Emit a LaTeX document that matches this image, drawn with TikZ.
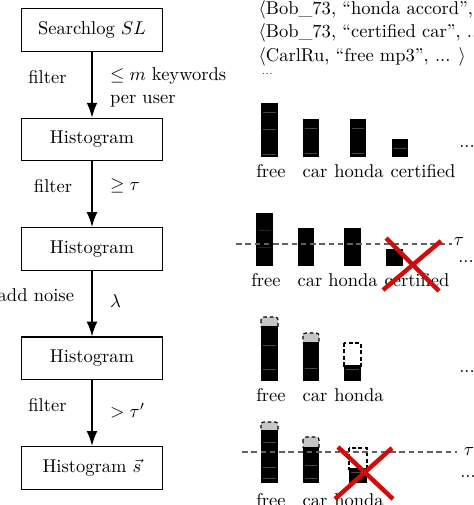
\documentclass[tikz,border=0pt]{standalone}
\usepackage{tikz}
\usetikzlibrary{arrows.meta,positioning}
\definecolor{crossred}{RGB}{210,10,10}
\tikzset{
  every picture/.style={line width=0.6pt},
  node distance=59.1pt,
  stage/.style={draw, rectangle, minimum width=76pt, minimum height=23pt, inner sep=0pt},
  flow/.style={-{Latex[length=8pt,width=5.8pt]}, line width=0.8pt},
  bar/.style={fill=black},
  unit/.style={gray!55!black, line width=0.4pt},
  darkunit/.style={gray!30!black, line width=0.4pt},
  noise/.style={fill=gray!45, draw=black, dash pattern=on 2pt off 1.5pt, line width=0.6pt, rounded corners=1.5pt},
  hole/.style={fill=white, draw=black, dash pattern=on 2pt off 1.5pt, line width=0.6pt},
  thres/.style={gray!75!black, dash pattern=on 3pt off 2pt, line width=0.6pt},
  cross/.style={crossred, line width=2.4pt},
  word/.style={anchor=base, inner sep=0pt}
}

\begin{document}
\begin{tikzpicture}[x=0.54pt, y=-0.54pt]
    \useasboundingbox (0,0) rectangle (474,505);

    % pipeline
    \node [stage] (log) at (92,30) {Searchlog $SL$};
    \node [stage, below of=log] (hist1) {Histogram};
    \node [stage, below of=hist1] (hist2) {Histogram};
    \node [stage, below of=hist2] (hist3) {Histogram};
    \node [stage, below of=hist3] (hist4) {Histogram $\vec{s}$};

    \draw[flow] (log) -- (hist1)
      node[pos=0.39, left=10pt] (f1) {filter}
      node[pos=0.54, right=6pt, align=left] (c1) {$\leq m$ keywords\\per user};
    \draw[flow] (hist1) -- (hist2)
      node[pos=0.38, left=7pt] (f2) {filter}
      node[pos=0.38, right=6pt] (c2) {$\geq \tau$};
    \draw[flow] (hist2) -- (hist3)
      node[pos=0.37, left=6pt] (f3) {add noise}
      node[pos=0.46, right=6pt] (c3) {$\lambda$};
    \draw[flow] (hist3) -- (hist4)
      node[pos=0.38, left=10pt] (f4) {filter}
      node[pos=0.47, right=6pt] (c4) {$> \tau'$};

    % search log records
    \node [anchor=west] (rec1) at (252,10) {$\langle$Bob\_73, ``honda accord'', ...};
    \node [anchor=west] (rec2) at (252,33) {$\langle$Bob\_73, ``certified car'', ...};
    \node [anchor=west] (rec3) at (252,57) {$\langle$CarlRu, ``free mp3'', ... $\rangle$};
    \node [anchor=west, font=\tiny] (rec4) at (255,74) {...};

    % histogram 1
    \foreach \xa/\xb/\yt in {261/278/103, 303/319/119, 350/366/119, 392/408/139}
      \fill[bar] (\xa,\yt) rectangle (\xb,157);
    \foreach \xa/\xb/\yy in {261/278/112, 261/278/129, 261/278/154, 303/319/128, 303/319/153,
                             350/366/128, 350/366/153, 392/408/148}
      \draw[unit] (\xa+2,\yy) -- (\xb-2,\yy);
    \node [word] (w11) at (271,177) {free};
    \node [word] (w12) at (315,177) {car};
    \node [word] (w13) at (359,177) {honda};
    \node [word] (w14) at (423,177) {certified};
    \node (more1) at (467,147) {...};

    % histogram 2
    \foreach \xa/\xb/\yt in {256/273/213, 298/314/228, 344/361/228, 386/403/249}
      \fill[bar] (\xa,\yt) rectangle (\xb,266);
    \foreach \yy in {230, 247}
      \draw[darkunit] (258,\yy) -- (271,\yy);
    \coordinate (t1a) at (236,244);
    \coordinate (t1b) at (452,244);
    \draw[thres] (t1a) -- (t1b);
    \node [inner sep=1pt] (tau1) at (459,242) {$\tau$};
    \node [inner sep=1pt] (more2) at (466,262) {...};
    \node [word] (w21) at (266,286) {free};
    \node [word] (w22) at (310,286) {car};
    \node [word] (w23) at (353,286) {honda};
    \node [word] (w24) at (417,286) {certified};
    \draw[cross] (386,238) -- (439,291);
    \draw[cross] (441,241) -- (383,290);

    % histogram 3
    \filldraw[noise] (261,317) rectangle (278,329);
    \filldraw[noise] (303,333) rectangle (319,345);
    \filldraw[hole] (344,343) rectangle (361,366);
    \fill[bar] (261,326) rectangle (278,381);
    \fill[bar] (303,342) rectangle (319,381);
    \fill[bar] (344,365) rectangle (361,381);
    \foreach \xa/\xb/\yy in {261/278/345, 261/278/369, 303/319/368, 344/361/369}
      \draw[unit] (\xa+2,\yy) -- (\xb-2,\yy);
    \node [word] (w31) at (271,401) {free};
    \node [word] (w32) at (315,401) {car};
    \node [word] (w33) at (359,401) {honda};
    \node (more3) at (467,372) {...};

    % histogram 4
    \filldraw[noise] (261,422) rectangle (278,433);
    \filldraw[noise] (303,437) rectangle (319,450);
    \filldraw[hole] (349,448) rectangle (367,469);
    \fill[bar] (261,430) rectangle (278,483);
    \fill[bar] (303,447) rectangle (319,483);
    \fill[bar] (349,468) rectangle (367,483);
    \foreach \xa/\xb/\yy in {261/278/442, 261/278/467, 261/278/478, 303/319/465, 303/319/478, 349/367/472}
      \draw[unit] (\xa+2,\yy) -- (\xb-2,\yy);
    \coordinate (t2a) at (242,452);
    \coordinate (t2b) at (457,452);
    \draw[thres] (t2a) -- (t2b);
    \node [inner sep=1pt] (tau2) at (469,452) {$\tau$};
    \node [inner sep=1pt] (more4) at (468,477) {...};
    \node [word] (w41) at (271,506) {free};
    \node [word] (w42) at (315,506) {car};
    \node [word] (w43) at (359,506) {honda};
    \draw[cross] (338,447) -- (393,499);
    \draw[cross] (392,448) -- (335,499);
  \end{tikzpicture}
\end{document}
